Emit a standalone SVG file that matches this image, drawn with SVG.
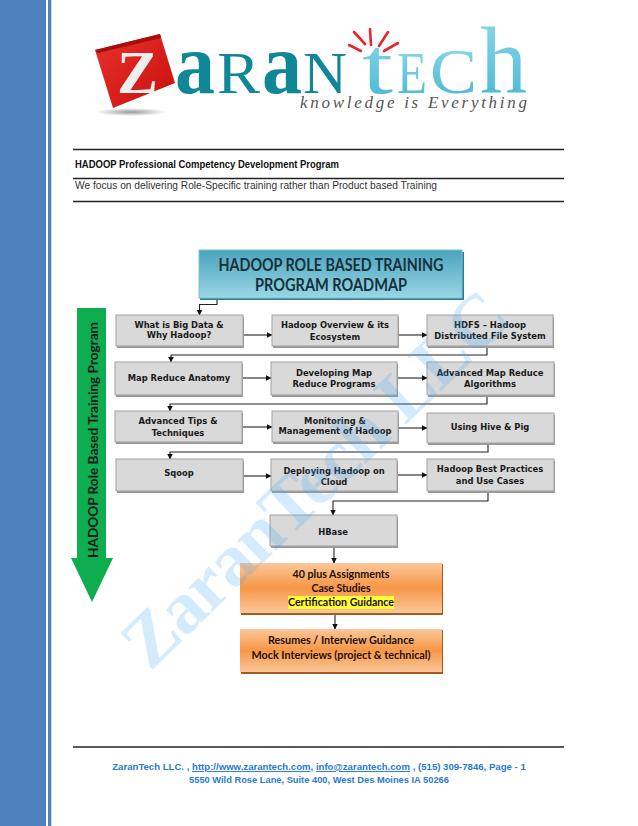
<svg xmlns="http://www.w3.org/2000/svg" width="638" height="826" viewBox="0 0 638 826">
<style>
.box{fill:#d9d9d9;stroke:#a2a2a2;stroke-width:1}
.sh{fill:#999}
.bt{font:bold 8.4px "DejaVu Sans",sans-serif;fill:#1a1a1a;text-anchor:middle}
.ot{font:bold 12px "Lato","Open Sans",sans-serif;fill:#1d1005;text-anchor:middle}
.tt{font:bold 16.500px "Lato","Open Sans",sans-serif;fill:#14323c;text-anchor:middle}
.con{fill:none;stroke:#222;stroke-width:1.1;marker-end:url(#ah)}
.rule{stroke:#222;stroke-width:1.6}
.fo{font:bold 9.600px "Liberation Sans",sans-serif;fill:#2a7bcf;text-anchor:middle}
.lg{font-family:"Liberation Serif",serif}
.lt{fill:#0f8797}
</style>
<defs>
<marker id="ah" markerWidth="6" markerHeight="6" refX="5.5" refY="3" orient="auto" markerUnits="userSpaceOnUse"><path d="M0 0L6 3L0 6Z" fill="#111"/></marker>
<linearGradient id="gt" x1="0" y1="0" x2="0" y2="1"><stop offset="0" stop-color="#4aa3bc"/><stop offset="1" stop-color="#9ad6e4"/></linearGradient>
<linearGradient id="go" x1="0" y1="0" x2="0" y2="1"><stop offset="0" stop-color="#fbc79b"/><stop offset=".5" stop-color="#f79646"/><stop offset="1" stop-color="#fbc79b"/></linearGradient>
<linearGradient id="gr" x1="0" y1="0" x2="1" y2="1"><stop offset="0" stop-color="#e8322a"/><stop offset="1" stop-color="#c80f0f"/></linearGradient>
<linearGradient id="gc" x1="0" y1="0" x2="0" y2="1"><stop offset="0" stop-color="#8fdcec"/><stop offset="1" stop-color="#45b4d0"/></linearGradient>
<radialGradient id="gs"><stop offset="0" stop-color="#999"/><stop offset="1" stop-color="#fff"/></radialGradient>
</defs>

<g id="sidebar">
<rect x="0" y="0" width="46" height="826" fill="#4f81bd"/>
<rect x="48" y="0" width="3" height="826" fill="#4f81bd"/>
<rect x="51" y="0" width="1" height="826" fill="#cfe0f3"/>
</g>

<g id="logo">
<ellipse cx="131" cy="112" rx="36" ry="4" fill="url(#gs)"/>
<polygon points="95,50 160,34 175,83 113,108" fill="url(#gr)"/>
<polygon points="95,50 160,34 161,38 98,53" fill="#a80e0e"/>
<text class="lg" x="117" y="93" font-size="62" font-weight="bold" fill="#eeeeee" textLength="41" lengthAdjust="spacingAndGlyphs">Z</text>
<g class="lg lt">
<text x="175" y="93" font-size="88" font-weight="bold" textLength="40" lengthAdjust="spacingAndGlyphs">a</text>
<text x="217" y="93" font-size="60" textLength="43" lengthAdjust="spacingAndGlyphs">R</text>
<text x="262" y="93" font-size="88" font-weight="bold" textLength="40" lengthAdjust="spacingAndGlyphs">a</text>
<text x="303" y="93" font-size="60" textLength="44" lengthAdjust="spacingAndGlyphs">N</text>
</g>
<g class="lg" fill="url(#gc)">
<text x="362" y="93" font-size="80" textLength="31" lengthAdjust="spacingAndGlyphs">t</text>
<text x="397" y="93" font-size="60" textLength="30" lengthAdjust="spacingAndGlyphs">E</text>
<text x="430" y="93" font-size="64" textLength="47" lengthAdjust="spacingAndGlyphs">C</text>
<text x="480" y="93" font-size="96" textLength="47" lengthAdjust="spacingAndGlyphs">h</text>
</g>
<g stroke="#e8262c" stroke-width="2.6" stroke-linecap="round">
<line x1="349" y1="45" x2="361" y2="51"/>
<line x1="354" y1="32" x2="365" y2="44"/>
<line x1="370" y1="29" x2="371" y2="45"/>
<line x1="388" y1="32" x2="379" y2="46"/>
<line x1="398" y1="43" x2="384" y2="51"/>
</g>
<text x="300" y="108" font-family="Liberation Serif,serif" font-style="italic" font-size="17" fill="#555" textLength="227" lengthAdjust="spacing">knowledge is Everything</text>
</g>

<g id="header">
<line class="rule" x1="73" y1="149.500" x2="564" y2="149.500"/>
<line class="rule" x1="73" y1="178.500" x2="564" y2="178.500"/>
<line class="rule" x1="73" y1="201.500" x2="564" y2="201.500"/>
<text x="75" y="168" font-family="Liberation Sans,sans-serif" font-weight="bold" font-size="10" fill="#111" textLength="264" lengthAdjust="spacingAndGlyphs">HADOOP Professional Competency Development Program</text>
<text x="75" y="189" font-family="Liberation Sans,sans-serif" font-size="10" fill="#333" textLength="362" lengthAdjust="spacingAndGlyphs">We focus on delivering Role-Specific training rather than Product based Training</text>
</g>

<g id="side-arrow">
<polygon points="77,308 106,308 106,558 113,558 92,602 71,558 77,558" fill="#0ead50"/>
<text transform="translate(98 558) rotate(-90)" font-family="Lato,Open Sans,sans-serif" font-weight="bold" font-size="14" fill="#1c1c1c" textLength="236" lengthAdjust="spacingAndGlyphs">HADOOP Role Based Training Program</text>
</g>

<g id="connectors">
<path class="con" d="M217 299V304.500H199.500V315"/>
<path class="con" d="M243 335H272"/>
<path class="con" d="M398 335H427"/>
<path class="con" d="M487 347V355H171V362"/>
<path class="con" d="M242 378H271"/>
<path class="con" d="M397 378H427"/>
<path class="con" d="M487 396V404H170V411"/>
<path class="con" d="M242 427H272"/>
<path class="con" d="M398 428H427"/>
<path class="con" d="M488 444V452H170V459"/>
<path class="con" d="M243 476H271"/>
<path class="con" d="M397 475H427"/>
<path class="con" d="M488 492V501H333V515"/>
<path class="con" d="M334 547V563"/>
<path class="con" d="M335 614V629"/>
</g>

<g id="n-title"><rect x="200" y="252" width="264" height="48" fill="#2a7f96"/><rect x="199" y="250" width="263" height="48" fill="url(#gt)" stroke="#7cc0d2"/>
<text class="tt" x="331" y="271" textLength="225" lengthAdjust="spacingAndGlyphs">HADOOP ROLE BASED TRAINING</text><text class="tt" x="331" y="291" textLength="152" lengthAdjust="spacingAndGlyphs">PROGRAM ROADMAP</text></g>

<g id="n1"><rect class="sh" x="117" y="317" width="127" height="31"/><rect class="box" x="116" y="315" width="127" height="31"/>
<text class="bt" x="179" y="328">What is Big Data &amp;</text><text class="bt" x="179" y="338">Why Hadoop?</text></g>
<g id="n2"><rect class="sh" x="273" y="317" width="126" height="31"/><rect class="box" x="272" y="315" width="126" height="31"/>
<text class="bt" x="335" y="328">Hadoop Overview &amp; its</text><text class="bt" x="335" y="340">Ecosystem</text></g>
<g id="n3"><rect class="sh" x="428" y="317" width="126" height="31"/><rect class="box" x="427" y="315" width="126" height="31"/>
<text class="bt" x="490" y="328">HDFS – Hadoop</text><text class="bt" x="490" y="338.500">Distributed File System</text></g>

<g id="n4"><rect class="sh" x="116" y="364" width="127" height="33"/><rect class="box" x="115" y="362" width="127" height="33"/>
<text class="bt" x="179" y="381">Map Reduce Anatomy</text></g>
<g id="n5"><rect class="sh" x="272" y="364" width="126" height="33"/><rect class="box" x="271" y="362" width="126" height="33"/>
<text class="bt" x="334" y="376">Developing Map</text><text class="bt" x="334" y="387">Reduce Programs</text></g>
<g id="n6"><rect class="sh" x="428" y="364" width="127" height="33"/><rect class="box" x="427" y="362" width="127" height="33"/>
<text class="bt" x="490" y="376">Advanced Map Reduce</text><text class="bt" x="490" y="387">Algorithms</text></g>

<g id="n7"><rect class="sh" x="116" y="413" width="127" height="31"/><rect class="box" x="115" y="411" width="127" height="31"/>
<text class="bt" x="178" y="424">Advanced Tips &amp;</text><text class="bt" x="178" y="436">Techniques</text></g>
<g id="n8"><rect class="sh" x="273" y="413" width="126" height="31"/><rect class="box" x="272" y="411" width="126" height="31"/>
<text class="bt" x="335" y="424">Monitoring &amp;</text><text class="bt" x="335" y="434">Management of Hadoop</text></g>
<g id="n9"><rect class="sh" x="428" y="415" width="127" height="30"/><rect class="box" x="427" y="413" width="127" height="30"/>
<text class="bt" x="490" y="430">Using Hive &amp; Pig</text></g>

<g id="n10"><rect class="sh" x="117" y="461" width="127" height="32"/><rect class="box" x="116" y="459" width="127" height="32"/>
<text class="bt" x="179" y="476">Sqoop</text></g>
<g id="n11"><rect class="sh" x="272" y="461" width="126" height="32"/><rect class="box" x="271" y="459" width="126" height="32"/>
<text class="bt" x="334" y="474">Deploying Hadoop on</text><text class="bt" x="334" y="485">Cloud</text></g>
<g id="n12"><rect class="sh" x="428" y="461" width="127" height="32"/><rect class="box" x="427" y="459" width="127" height="32"/>
<text class="bt" x="490" y="472">Hadoop Best Practices</text><text class="bt" x="490" y="484">and Use Cases</text></g>

<g id="n13"><rect class="sh" x="271" y="517" width="127" height="31"/><rect class="box" x="270" y="515" width="127" height="31"/>
<text class="bt" x="333" y="535">HBase</text></g>

<g id="n14"><rect x="241" y="564" width="202" height="51" fill="#a65a1c"/><rect x="240" y="563" width="202" height="50" fill="url(#go)"/>
<rect x="288" y="596" width="106" height="13" fill="#ffff33"/>
<text class="ot" x="341" y="578" textLength="97" lengthAdjust="spacingAndGlyphs">40 plus Assignments</text><text class="ot" x="341" y="592" textLength="59" lengthAdjust="spacingAndGlyphs">Case Studies</text><text class="ot" x="341" y="606" textLength="106" lengthAdjust="spacingAndGlyphs">Certification Guidance</text></g>
<g id="n15"><rect x="241" y="630" width="202" height="44" fill="#a65a1c"/><rect x="240" y="629" width="202" height="43" fill="url(#go)"/>
<text class="ot" x="341" y="644" textLength="146" lengthAdjust="spacingAndGlyphs">Resumes / Interview Guidance</text><text class="ot" x="341" y="659" textLength="179" lengthAdjust="spacingAndGlyphs">Mock Interviews (project &amp; technical)</text></g>

<g id="footer">
<line class="rule" x1="73" y1="747" x2="564" y2="747"/>
<text class="fo" x="319" y="770">ZaranTech LLC. , <tspan text-decoration="underline">http://www.zarantech.com</tspan>, <tspan text-decoration="underline">info@zarantech.com</tspan> , (515) 309-7846, Page - 1</text>
<text class="fo" x="319" y="783" font-size="9.3" style="font-size:9.300px">5550 Wild Rose Lane, Suite 400, West Des Moines IA 50266</text>
</g>

<text id="watermark" transform="translate(150 672) rotate(-44)" font-family="Liberation Serif,serif" font-weight="bold" font-size="74" fill="#4da6f5" fill-opacity=".24" textLength="505" lengthAdjust="spacing">ZaranTech LLC</text>
</svg>
